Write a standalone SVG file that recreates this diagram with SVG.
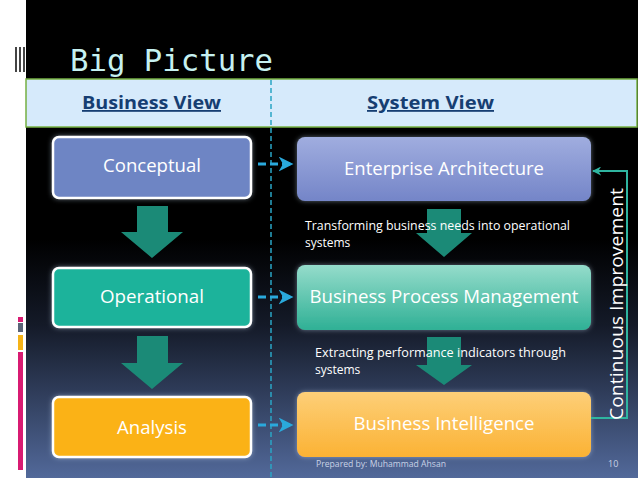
<svg xmlns="http://www.w3.org/2000/svg" width="638" height="478" viewBox="0 0 638 478">
<defs>
<linearGradient id="bg" x1="0" y1="0" x2="0" y2="1">
<stop offset="0" stop-color="#000"/>
<stop offset="0.5" stop-color="#000"/>
<stop offset="0.68" stop-color="#141a28"/>
<stop offset="1" stop-color="#52699a"/>
</linearGradient>
<linearGradient id="gEA" x1="0" y1="0" x2="0" y2="1">
<stop offset="0" stop-color="#a0addf"/>
<stop offset="1" stop-color="#7485c8"/>
</linearGradient>
<linearGradient id="gBPM" x1="0" y1="0" x2="0" y2="1">
<stop offset="0" stop-color="#95dccb"/>
<stop offset="1" stop-color="#2fb095"/>
</linearGradient>
<linearGradient id="gBI" x1="0" y1="0" x2="0" y2="1">
<stop offset="0" stop-color="#fdcf78"/>
<stop offset="1" stop-color="#fbb234"/>
</linearGradient>
<filter id="glow" x="-10%" y="-20%" width="120%" height="140%">
<feGaussianBlur in="SourceAlpha" stdDeviation="2.5" result="b"/>
<feFlood flood-color="#cfe6ff" flood-opacity="0.45"/>
<feComposite in2="b" operator="in" result="g"/>
<feMerge><feMergeNode in="g"/><feMergeNode in="SourceGraphic"/></feMerge>
</filter>
<marker id="blueHead" viewBox="0 0 10 10" refX="9" refY="5" markerWidth="15" markerHeight="15" markerUnits="userSpaceOnUse" orient="auto">
<path d="M0,0 L10,5 L0,10 L3,5 Z" fill="#2aa9dc"/>
</marker>
<marker id="tealHead" viewBox="0 0 10 10" refX="9" refY="5" markerWidth="9" markerHeight="9" markerUnits="userSpaceOnUse" orient="auto">
<path d="M0,0 L10,5 L0,10 L3,5 Z" fill="#2fb5a0"/>
</marker>
</defs>
<style>
.lbox{stroke:#fff;stroke-width:2.5;filter:url(#glow)}
.rbox{filter:url(#glow)}
.ntxt{font-family:"Open Sans","Liberation Sans",sans-serif;fill:#fff;font-size:19px;text-anchor:middle}
.hdr{font-family:"Open Sans","Liberation Sans",sans-serif;font-weight:bold;font-size:18px;fill:#163e72;text-decoration:underline}
.small{font-family:"Open Sans","Liberation Sans",sans-serif;font-size:12px;fill:#fff}
.block{fill:#1b8a77}
.dash{stroke:#2aa9dc;stroke-width:3;stroke-dasharray:8 4;fill:none}
</style>

<rect x="0" y="0" width="638" height="478" fill="#fff"/>
<rect x="26" y="0" width="612" height="478" fill="url(#bg)"/>

<!-- left decorations -->
<g fill="#444">
<rect x="15" y="47" width="2" height="25"/>
<rect x="19" y="47" width="2" height="25"/>
<rect x="23" y="47" width="2" height="25"/>
</g>
<rect x="18" y="317" width="5" height="5" fill="#d81b72"/>
<rect x="18" y="323" width="5" height="9" fill="#5a6478"/>
<rect x="18" y="335" width="5" height="15" fill="#f5b318"/>
<rect x="18" y="352" width="5" height="118" fill="#d81b72"/>

<text x="70" y="71" font-family="'DejaVu Sans Mono','Liberation Mono',monospace" font-size="30" fill="#c6f1f1" textLength="203" lengthAdjust="spacingAndGlyphs">Big Picture</text>

<!-- header band -->
<rect x="26" y="79" width="611" height="48" fill="#d6eafb" stroke="#76b043" stroke-width="1.5"/>
<text x="82" y="109" class="hdr" textLength="139" lengthAdjust="spacingAndGlyphs">Business View</text>
<text x="367" y="109" class="hdr" textLength="127" lengthAdjust="spacingAndGlyphs">System View</text>
<line x1="271" y1="80" x2="271" y2="478" stroke="#2aa5c5" stroke-width="1.5" stroke-dasharray="5 3"/>

<!-- left nodes -->
<g id="conceptual">
<rect x="53" y="137" width="198" height="61" rx="6" fill="#6e85c4" class="lbox"/>
<text x="152" y="172" class="ntxt" textLength="98" lengthAdjust="spacingAndGlyphs">Conceptual</text>
</g>
<g id="operational">
<rect x="53" y="268" width="198" height="59" rx="6" fill="#1bb39b" class="lbox"/>
<text x="152" y="303" class="ntxt" textLength="104" lengthAdjust="spacingAndGlyphs">Operational</text>
</g>
<g id="analysis">
<rect x="53" y="397" width="198" height="60" rx="6" fill="#fbb213" class="lbox"/>
<text x="152" y="434" class="ntxt" textLength="70" lengthAdjust="spacingAndGlyphs">Analysis</text>
</g>

<!-- right nodes -->
<g id="enterprise-architecture">
<rect x="297" y="137" width="294" height="64" rx="8" fill="url(#gEA)" class="rbox"/>
<text x="444" y="175" class="ntxt" textLength="200" lengthAdjust="spacingAndGlyphs">Enterprise Architecture</text>
</g>
<g id="business-process-management">
<rect x="297" y="265" width="294" height="65" rx="8" fill="url(#gBPM)" class="rbox"/>
<text x="444" y="303" class="ntxt" textLength="269" lengthAdjust="spacingAndGlyphs">Business Process Management</text>
</g>
<g id="business-intelligence">
<rect x="297" y="392" width="294" height="65" rx="8" fill="url(#gBI)" class="rbox"/>
<text x="444" y="430" class="ntxt" textLength="181" lengthAdjust="spacingAndGlyphs">Business Intelligence</text>
</g>

<!-- connectors -->
<g id="connectors">
<polygon class="block" points="137,206 168,206 168,232 183,232 152,258 121,232 137,232"/>
<polygon class="block" points="137,336 168,336 168,363 183,363 152,389 121,363 137,363"/>
<polygon class="block" points="427,209 461,209 461,233 472,233 444,257 416,233 427,233"/>
<polygon class="block" points="427,337 461,337 461,365 472,365 444,385 416,365 427,365"/>
<line x1="258" y1="164" x2="292" y2="164" class="dash" marker-end="url(#blueHead)"/>
<line x1="258" y1="297" x2="292" y2="297" class="dash" marker-end="url(#blueHead)"/>
<line x1="258" y1="425" x2="292" y2="425" class="dash" marker-end="url(#blueHead)"/>
<path d="M591,418 H627 V171 H593" fill="none" stroke="#2fb5a0" stroke-width="2" marker-end="url(#tealHead)"/>
<text x="623" y="304" transform="rotate(-90 623 304)" font-family="'Open Sans','Liberation Sans',sans-serif" font-size="19" fill="#fff" text-anchor="middle" textLength="232" lengthAdjust="spacingAndGlyphs">Continuous Improvement</text>
<text class="small"><tspan x="305" y="230" textLength="265" lengthAdjust="spacingAndGlyphs">Transforming business needs into operational</tspan><tspan x="305" y="247">systems</tspan></text>
<text class="small"><tspan x="315" y="357" textLength="251" lengthAdjust="spacingAndGlyphs">Extracting performance indicators  through</tspan><tspan x="315" y="374">systems</tspan></text>
</g>

<text x="316" y="467" font-family="'Open Sans','Liberation Sans',sans-serif" font-size="9" fill="#c9d2e6" textLength="130" lengthAdjust="spacingAndGlyphs">Prepared by: Muhammad Ahsan</text>
<text x="608" y="467" font-family="'Open Sans','Liberation Sans',sans-serif" font-size="9" fill="#c9d2e6">10</text>
</svg>
